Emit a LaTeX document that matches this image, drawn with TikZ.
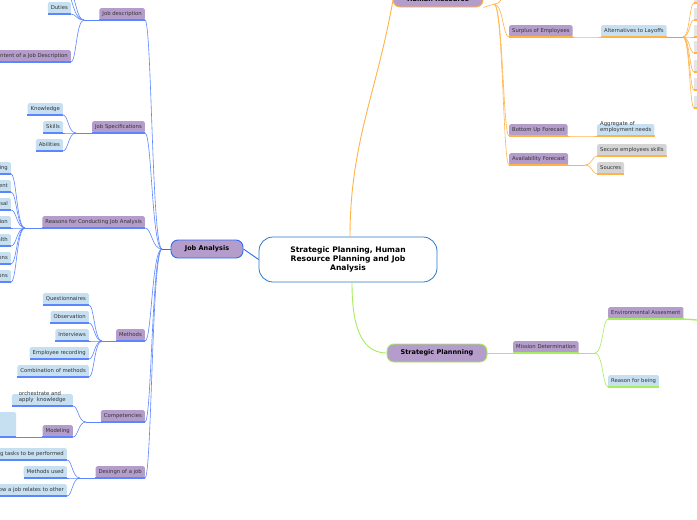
\documentclass[tikz,border=0pt]{standalone}
\usepackage{fontspec}
\setmainfont{DejaVu Sans}
\usetikzlibrary{calc}
\begin{document}
\begin{tikzpicture}[x=1pt,y=-1pt]
\definecolor{purp}{HTML}{B49CCB}
\definecolor{lblue}{HTML}{C6DFF1}
\definecolor{lgray}{HTML}{D4D4D4}
\definecolor{blueL}{HTML}{5B86FF}
\definecolor{blueD}{HTML}{2F6DF6}
\definecolor{oranL}{HTML}{FFB347}
\definecolor{oranD}{HTML}{FF9A00}
\definecolor{grnL}{HTML}{A8EC60}
\definecolor{cblue}{HTML}{2A78C8}
\tikzset{
 base/.style={rounded corners=1.5pt, inner xsep=3pt, inner ysep=3.3pt, text height=4pt, text depth=1pt, font=\fontsize{5.3}{6.1}\selectfont, text=black!80},
 pu/.style={base, fill=purp},
 lb/.style={base, fill=lblue},
 gr/.style={base, fill=lgray},
 main/.style={rounded corners=7pt, fill=purp, line width=0.9pt, minimum height=18pt, font=\fontsize{6.5}{7.5}\selectfont\bfseries, text=black},
}
\newcommand\cv[3]{\draw[#1,line width=0.6pt] let \p1=(#2), \p2=(#3) in (\p1) .. controls ({0.4*\x1+0.6*\x2},\y1) and ({0.4*\x1+0.6*\x2},\y2) .. (\p2);}
\newcommand\cL[3]{\cv{#1}{#2}{#3.south east}\draw[#1,line width=1.3pt] (#3.south east)--(#3.south west);}
\newcommand\cR[3]{\cv{#1}{#2}{#3.south west}\draw[#1,line width=1.3pt] (#3.south west)--(#3.south east);}
\useasboundingbox (0,0) rectangle (697,520);
\clip (0,0) rectangle (697,520);
\fill[white] (0,0) rectangle (697,520);

% central
\node[draw=cblue, line width=0.8pt, fill=white, rounded corners=14pt, minimum width=178pt, minimum height=45pt, align=center, font=\fontsize{7.6}{9}\selectfont\bfseries] (C) at (348,259.5) {Strategic Planning, Human\\Resource Planning and Job\\Analysis};
\node[main, draw=blueD, minimum width=72pt] (JA) at (207,249) {Job Analysis};
\node[main, draw=grnL, minimum width=100pt] (SP) at (437,353) {Strategic Plannning};
\node[main, draw=oranL, minimum width=90pt, minimum height=16pt] (HR) at (438,-1) {Human Resource};
\draw[blueD,line width=0.9pt] (C.west) -- (JA.east);
\draw[oranL,line width=0.9pt] (350,237) to[out=90,in=-100] (393,0);
\draw[grnL,line width=0.9pt] (352,282) to[out=-90,in=180] (SP.west);

% ---- Job Analysis branches
\coordinate (jJ) at (162,249);
\draw[blueD,line width=0.6pt] (JA.west)--(jJ);
\node[pu,anchor=south east] (jd) at (145,20) {Job description};
\node[pu,anchor=south east] (js) at (145,133) {Job Specifications};
\node[pu,anchor=south east] (rc) at (145,228) {Reasons for Conducting Job Analysis};
\node[pu,anchor=south east] (me) at (145,341) {Methods};
\node[pu,anchor=south east] (co) at (145,422) {Competencies};
\node[pu,anchor=south east] (dj) at (145,478) {Desingn of a job};
\foreach \nd in {jd,js,rc,me,co,dj}{\cL{blueL}{jJ}{\nd}}

% job description
\coordinate (jdJ) at (84,20);
\draw[blueL,line width=0.6pt] (jd.south west)--(jdJ);
\node[lb,anchor=south east] (du) at (71,14) {Duties};
\node[pu,anchor=south east] (cjd) at (71,62) {Content of a Job Description};
\cL{blueL}{jdJ}{du}\cL{blueL}{jdJ}{cjd}
\coordinate (up1) at (71,-4);\coordinate (up2) at (64,-12);
\cv{blueL}{jdJ}{up1}\cv{blueL}{jdJ}{up2}

% job specifications
\coordinate (jsJ) at (76,133);
\draw[blueL,line width=0.6pt] (js.south west)--(jsJ);
\node[lb,anchor=south east] (kn) at (63,115) {Knowledge};
\node[lb,anchor=south east] (sk) at (63,133) {Skills};
\node[lb,anchor=south east] (ab) at (63,151) {Abilities};
\foreach \nd in {kn,sk,ab}{\cL{blueL}{jsJ}{\nd}}

% reasons
\coordinate (rcJ) at (25,228);
\draw[blueL,line width=0.6pt] (rc.south west)--(rcJ);
\node[lb,anchor=south east] (r1) at (11,174) {Human Resource Planning};
\node[lb,anchor=south east] (r2) at (11,192) {Recruitment};
\node[lb,anchor=south east] (r3) at (11,210) {Performance Appraisal};
\node[lb,anchor=south east] (r4) at (11,228) {Compensation};
\node[lb,anchor=south east] (r5) at (11,246) {Safety and Health};
\node[lb,anchor=south east] (r6) at (11,264) {Employee and Labor Relations};
\node[lb,anchor=south east] (r7) at (11,282) {Legal Considerations};
\foreach \nd in {r1,r2,r3,r4,r5,r6,r7}{\cL{blueL}{rcJ}{\nd}}

% methods
\coordinate (meJ) at (102,341);
\draw[blueL,line width=0.6pt] (me.south west)--(meJ);
\node[lb,anchor=south east] (m1) at (89,305) {Questionnaires};
\node[lb,anchor=south east] (m2) at (89,323) {Observation};
\node[lb,anchor=south east] (m3) at (89,341) {Interviews};
\node[lb,anchor=south east] (m4) at (89,359) {Employee recording};
\node[lb,anchor=south east] (m5) at (89,377) {Combination of methods};
\foreach \nd in {m1,m2,m3,m4,m5}{\cL{blueL}{meJ}{\nd}}

% competencies
\coordinate (coJ) at (86,422);
\draw[blueL,line width=0.6pt] (co.south west)--(coJ);
\node[lb,anchor=south east,align=left,minimum width=61pt] (c1) at (73,406) {orchestrate and\\apply\ \ knowledge};
\node[pu,anchor=south east] (c2) at (73,437) {Modeling};
\cL{blueL}{coJ}{c1}\cL{blueL}{coJ}{c2}
\fill[lblue,rounded corners=1.5pt] (-5,412) rectangle (16,437);
\draw[blueL,line width=0.6pt] (c2.south west)--(16,437);
\draw[blueL,line width=1.3pt] (16,437)--(-5,437);

% design
\coordinate (djJ) at (80,478);
\draw[blueL,line width=0.6pt] (dj.south west)--(djJ);
\node[lb,anchor=south east] (d1) at (67,460) {Determining tasks to be performed};
\node[lb,anchor=south east] (d2) at (67,478) {Methods used};
\node[lb,anchor=south east] (d3) at (67,496) {How a job relates to other};
\foreach \nd in {d1,d2,d3}{\cL{blueL}{djJ}{\nd}}

% ---- Human Resource
\coordinate (hrJ) at (494,4);
\draw[oranL,line width=0.6pt] (HR.south east)--(hrJ);
\node[pu,anchor=south west] (se) at (509,37) {Surplus of Employees};
\node[pu,anchor=south west] (bu) at (509,136) {Bottom Up Forecast};
\node[pu,anchor=south west] (af) at (509,165) {Availability Forecast};
\foreach \nd in {se,bu,af}{\cR{oranL}{hrJ}{\nd}}
\coordinate (hu1) at (509,-8);
\cv{oranL}{hrJ}{hu1}

\node[lb,anchor=south west] (al) at (601,37) {Alternatives to Layoffs};
\cR{oranL}{se.south east}{al}
\coordinate (alJ) at (683,37);
\draw[oranD,line width=0.6pt] (al.south east)--(alJ);
\foreach \yy [count=\i] in {3,20,37,53,72,90,108}{
  \fill[lgray!60] (694,\yy-12) rectangle (700,\yy);
  \coordinate (lf\i) at (694,\yy);
  \cv{oranL}{alJ}{lf\i}
  \draw[oranL,line width=1.2pt] (694,\yy)--(697,\yy);}

\node[lb,anchor=south west,align=left] (ag) at (597,136) {Aggregate of\\employment needs};
\cR{oranL}{bu.south east}{ag}
\coordinate (afJ) at (585,165);
\draw[oranL,line width=0.6pt] (af.south east)--(afJ);
\node[gr,anchor=south west] (a1) at (597,156) {Secure employees skills};
\node[gr,anchor=south west] (a2) at (597,174) {Soucres};
\cR{oranL}{afJ}{a1}\cR{oranL}{afJ}{a2}

% ---- Strategic
\node[pu,anchor=south west] (md) at (513,353) {Mission Determination};
\draw[grnL,line width=0.6pt] (SP.east)--(md.south west);
\draw[grnL,line width=1.3pt] (md.south west)--(md.south east);
\coordinate (mdJ) at (595,353);
\draw[grnL,line width=0.6pt] (md.south east)--(mdJ);
\node[pu,anchor=south west] (ea) at (608,319) {Environmental Assesment};
\node[lb,anchor=south west] (rb) at (608,387) {Reason for being};
\cR{grnL}{mdJ}{ea}\cR{grnL}{mdJ}{rb}
\draw[grnL,line width=1.3pt] (ea.south east)--(697,320);
\end{tikzpicture}
\end{document}
